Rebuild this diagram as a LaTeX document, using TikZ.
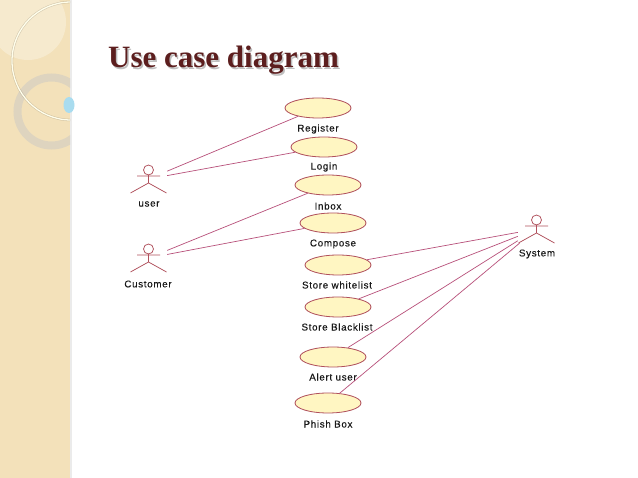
\documentclass[tikz,border=0pt]{standalone}
\usepackage{fontspec}
\setmainfont{Liberation Serif}
\setsansfont{Liberation Sans}
\newfontfamily\labelfont[LetterSpace=7,FakeBold=0.3]{Liberation Sans}
\usetikzlibrary{shapes.geometric}
\definecolor{strip}{HTML}{F3E1BA}
\definecolor{umlline}{HTML}{B8507A}
\definecolor{ucborder}{HTML}{B0505C}
\definecolor{ucfill}{HTML}{FFF6C2}
\definecolor{titlecol}{HTML}{5C1E1E}
\definecolor{dotblue}{HTML}{A9DCEF}
\newcommand\stickfig[1]{%
  \begin{scope}[shift={(#1.center)}]
    \draw[actorline] (0,-9) circle (5);
    \draw[actorline] (-11.5,-3) -- (11.5,-3) (0,-4) -- (0,4) (-18,14) -- (0,4) -- (18,14);
  \end{scope}}
\begin{document}
\begin{tikzpicture}[x=1pt,y=-1pt,
  usecase/.style={ellipse, draw=ucborder, fill=ucfill, line width=0.8pt,
    minimum width=66pt, minimum height=20pt, inner sep=0pt},
  uclabel/.style={font={\labelfont\fontsize{9.8}{11}\selectfont}, text=black!90, inner sep=0pt},
  actorbox/.style={rectangle, minimum width=37pt, minimum height=28pt, inner sep=0pt},
  actorline/.style={draw=ucborder, line width=0.75pt},
  link/.style={draw=umlline, line width=0.7pt}]

\useasboundingbox (0,0) rectangle (638,478);
\fill[white] (0,0) rectangle (638,478);
% decorative strip
\fill[strip] (0,0) rectangle (70,478);
\begin{scope}
  \clip (0,0) rectangle (70,478);
  \fill[white, opacity=0.3] (28,22) circle (38);
  \draw[color=gray!45, line width=8pt, opacity=0.45] (51.5,111.5) circle (34);
  \draw[color=strip!60!black, line width=2.4pt, opacity=0.35] (71,61) circle (59);
  \draw[color=white!92!yellow, line width=1.3pt] (71,61) circle (59);
\end{scope}
\fill[black, opacity=0.08] (70,0) rectangle (72,478);
\fill[dotblue] (69,105) ellipse (5.5 and 8);

% title
\node[anchor=base west, font={\bfseries\fontsize{31}{36}\selectfont}, text=black, opacity=0.25, inner sep=0pt] (titleshadow) at (109.5,69.5) {Use case diagram};
\node[anchor=base west, font={\bfseries\fontsize{31}{36}\selectfont}, text=titlecol, inner sep=0pt] (title) at (108,68) {Use case diagram};

% use cases
\node[usecase] (reg) at (318,108) {};
\node[uclabel] (regL) at (318,129) {Register};
\node[usecase] (login) at (324,147) {};
\node[uclabel] (loginL) at (324,167) {Login};
\node[usecase] (inbox) at (328,185) {};
\node[uclabel] (inboxL) at (328,206) {Inbox};
\node[usecase] (compose) at (333,223) {};
\node[uclabel] (composeL) at (333,244) {Compose};
\node[usecase] (white) at (338,265) {};
\node[uclabel] (whiteL) at (337,285) {Store whitelist};
\node[usecase] (black) at (338,307) {};
\node[uclabel] (blackL) at (337,327) {Store Blacklist};
\node[usecase] (alert) at (333,357) {};
\node[uclabel] (alertL) at (333,377) {Alert user};
\node[usecase] (phish) at (328,403) {};
\node[uclabel] (phishL) at (328,424) {Phish Box};

% actors
\node[actorbox] (user) at (148.5,179) {};
\stickfig{user}
\node[uclabel] (userL) at (149,204) {user};
\node[actorbox] (cust) at (148.5,258) {};
\stickfig{cust}
\node[uclabel] (custL) at (148,284) {Customer};
\node[actorbox] (sys) at (536.5,229) {};
\stickfig{sys}
\node[uclabel] (sysL) at (537,254) {System};

% associations
\draw[link] (user) -- (reg);
\draw[link] (user) -- (login);
\draw[link] (cust) -- (inbox);
\draw[link] (cust) -- (compose);
\draw[link] (sys) -- (white);
\draw[link] (sys) -- (black);
\draw[link] (sys) -- (alert);
\draw[link] (sys) -- (phish);
\end{tikzpicture}
\end{document}
